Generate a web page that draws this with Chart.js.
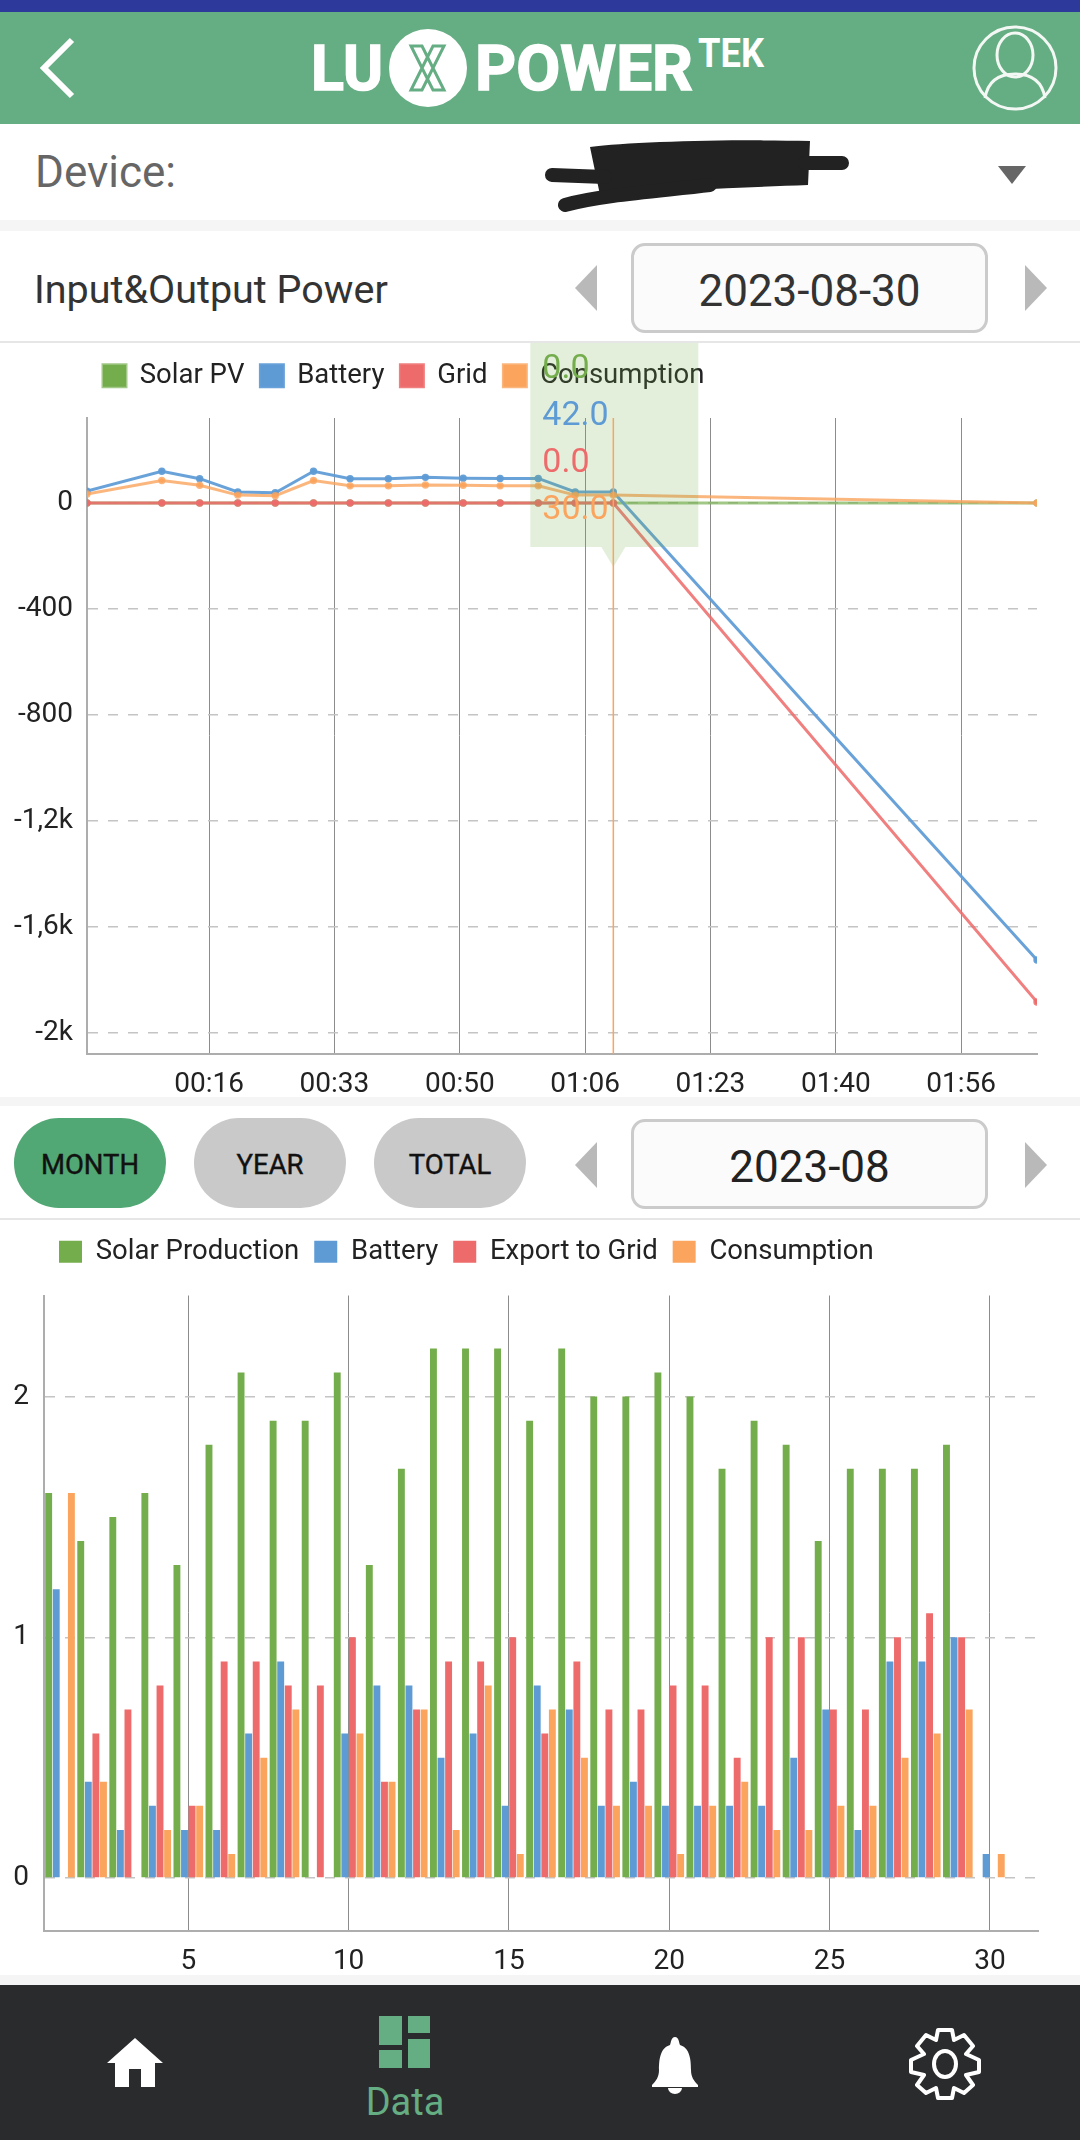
<!DOCTYPE html>
<html>
<head>
<meta charset="utf-8">
<title>Input&amp;Output Power</title>
<script src="https://cdn.jsdelivr.net/npm/chart.js@4/dist/chart.umd.min.js"></script>
<style>
  html, body { margin: 0; padding: 0; background: #fff; }
  body { width: 1080px; height: 2140px; position: relative; overflow: hidden; font-family: Roboto, sans-serif; color: #333; }
  .abs { position: absolute; }
  .status { left: 0; top: 0; width: 1080px; height: 12px; background: #2e3a9b; }
  .header { left: 0; top: 12px; width: 1080px; height: 112px; background: #65ad83; }
  .band { left: 0; width: 1080px; background: #f5f5f5; }
  .line { left: 0; width: 1080px; height: 2px; background: #e6e6e6; }
  .label { white-space: nowrap; line-height: 1; }
  .date { left: 631px; width: 351px; border: 3px solid #cbcbcb; border-radius: 14px; background: #fbfbfb; text-align: center; font-size: 44px; }
  .pill { width: 152px; height: 90px; border-radius: 45px; background: #c9c9c9; text-align: center; line-height: 93px; font-size: 27.5px; color: #111; -webkit-text-stroke: 0.4px #111; }
  .nav { left: 0; top: 1985px; width: 1080px; height: 155px; background: #2a2b2d; }
  canvas { position: absolute; left: 0; }
</style>
</head>
<body>
<div class="abs status"></div>
<div class="abs header"></div>
<svg class="abs" style="left:0;top:0" width="1080" height="124">
  <path d="M72 40 L44 68 L72 96" fill="none" stroke="#fff" stroke-width="6"/>
  <text x="311" y="90" font-family="Roboto" font-weight="700" font-size="63" fill="#fff" stroke="#fff" stroke-width="1.5" textLength="72" lengthAdjust="spacingAndGlyphs">LU</text>
  <circle cx="428" cy="68" r="39" fill="#fff"/>
  <path d="M411 46 h11 l22 44 h-11 z M444 46 h-11 l-22 44 h11 z" fill="#fff" stroke="#65ad83" stroke-width="3"/>
  <text x="475" y="90" font-family="Roboto" font-weight="700" font-size="63" fill="#fff" stroke="#fff" stroke-width="1.5" textLength="218" lengthAdjust="spacingAndGlyphs">POWER</text>
  <text x="698" y="67" font-family="Roboto" font-weight="700" font-size="40" fill="#fff" textLength="66" lengthAdjust="spacingAndGlyphs">TEK</text>
  <ellipse cx="1015" cy="68" rx="41" ry="41" fill="none" stroke="#f3f8f4" stroke-width="3"/>
  <ellipse cx="1015" cy="55" rx="18" ry="22" fill="none" stroke="#f3f8f4" stroke-width="3"/>
  <path d="M985 98 C988 80 1000 74 1015 74 C1030 74 1042 80 1045 98" fill="none" stroke="#f3f8f4" stroke-width="3"/>
</svg>

<div class="abs label" style="left:35px;top:150px;font-size:44px;color:#666">Device:</div>
<svg class="abs" style="left:530px;top:135px" width="330" height="85">
  <path d="M60 12 C100 7 200 4 280 6 L278 50 C220 52 150 55 70 60 Z" fill="#222"/>
  <path d="M22 40 L75 42 M275 28 L312 28 M35 70 C70 60 130 56 180 50" fill="none" stroke="#222" stroke-width="14" stroke-linecap="round"/>
</svg>
<svg class="abs" style="left:998px;top:166px" width="30" height="20"><path d="M0 0 H28 L14 18 Z" fill="#666"/></svg>
<div class="abs band" style="top:220px;height:11px"></div>

<div class="abs label" style="left:34px;top:270px;font-size:39.5px">Input&amp;Output Power</div>
<svg class="abs" style="left:575px;top:265px" width="22" height="46"><path d="M22 0 V46 L0 23 Z" fill="#b9b9b9"/></svg>
<div class="abs date" style="top:243px;height:84px;line-height:90px">2023-08-30</div>
<svg class="abs" style="left:1025px;top:265px" width="22" height="46"><path d="M0 0 V46 L22 23 Z" fill="#b9b9b9"/></svg>
<div class="abs line" style="top:341px"></div>

<div class="abs band" style="top:1097px;height:9px"></div>
<div class="abs pill" style="left:14px;top:1118px;background:#51a874">MONTH</div>
<div class="abs pill" style="left:194px;top:1118px">YEAR</div>
<div class="abs pill" style="left:374px;top:1118px">TOTAL</div>
<svg class="abs" style="left:575px;top:1142px" width="22" height="46"><path d="M22 0 V46 L0 23 Z" fill="#b9b9b9"/></svg>
<div class="abs date" style="top:1119px;height:84px;line-height:90px;color:#222">2023-08</div>
<svg class="abs" style="left:1025px;top:1142px" width="22" height="46"><path d="M0 0 V46 L22 23 Z" fill="#b9b9b9"/></svg>
<div class="abs line" style="top:1218px"></div>

<canvas id="powerChart" width="1080" height="770" style="top:331px"></canvas>
<canvas id="energyChart" width="1080" height="770" style="top:1205px"></canvas>

<div class="abs band" style="top:1975px;height:10px"></div>
<div class="abs nav"></div>
<svg class="abs" style="left:0;top:1985px" width="1080" height="155">
  <path d="M135 53 L107 78 H115 V102 H129 V84 H141 V102 H155 V78 H163 Z" fill="#fff"/>
  <g fill="#65ad83">
    <rect x="379" y="31" width="23" height="29"/><rect x="408" y="31" width="22" height="17"/>
    <rect x="379" y="65" width="23" height="18"/><rect x="408" y="54" width="22" height="29"/>
  </g>
  <text x="405" y="130" font-family="Roboto" font-size="38" fill="#65ad83" text-anchor="middle">Data</text>
  <path d="M675 52 C671 52 671 58 670 60 C660 63 659 75 659 85 C659 92 656 96 652 100 V102 H698 V100 C694 96 691 92 691 85 C691 75 690 63 680 60 C679 58 679 52 675 52 Z" fill="#fff"/>
  <path d="M668 103 H682 A7 6 0 0 1 668 103 Z" fill="#fff"/>
  <path d="M938 45 L952 45 L954 55 L964 50 L973 61 L966 69 L979 75 L979 87 L966 90 L973 100 L964 108 L954 103 L952 113 L938 113 L936 103 L926 108 L917 100 L924 90 L911 87 L911 75 L924 69 L917 61 L926 50 L936 55 Z" fill="none" stroke="#fff" stroke-width="4" stroke-linejoin="round"/>
  <ellipse cx="945" cy="79" rx="11" ry="13" fill="none" stroke="#fff" stroke-width="4"/>
</svg>

<script>
// top chart: time in seconds since midnight, power in W
const powerTimes = [26, 623, 925, 1229, 1528, 1833, 2125, 2430, 2726, 3027, 3322, 3626, 3921, 4225, 7605]
const solarPv = [0, 0, 0, 0, 0, 0, 0, 0, 0, 0, 0, 0, 0, 0, 0]
const battery = [45, 120, 92, 42, 39, 120, 92, 92, 97, 94, 93, 93, 42, 42, -1724]
const grid = [0, 0, 0, 0, 0, 0, 0, 0, 0, 0, 0, 0, 0, 0, -1883]
const consumption = [34, 85, 67, 30, 28, 85, 65, 65, 68, 67, 65, 65, 30, 30, 0]
const powerXTicks = [1000, 2000, 3000, 4000, 5000, 6000, 7000]
const powerYTicks = [-2000, -1600, -1200, -800, -400, 0]
const powerYLabels = ['-2k', '-1,6k', '-1,2k', '-800', '-400', '0']
const highlightIndex = 13

// bottom chart: energy per day of the month
const days = ['1', '2', '3', '4', '5', '6', '7', '8', '9', '10', '11', '12', '13', '14', '15', '16', '17', '18', '19', '20', '21', '22', '23', '24', '25', '26', '27', '28', '29', '30', '31']
const solarProduction = [1.6, 1.4, 1.5, 1.6, 1.3, 1.8, 2.1, 1.9, 1.9, 2.1, 1.3, 1.7, 2.2, 2.2, 2.2, 1.9, 2.2, 2.0, 2.0, 2.1, 2.0, 1.7, 1.9, 1.8, 1.4, 1.7, 1.7, 1.7, 1.8, 0, 0]
const batteryEnergy = [1.2, 0.4, 0.2, 0.3, 0.2, 0.2, 0.6, 0.9, 0, 0.6, 0.8, 0.8, 0.5, 0.6, 0.3, 0.8, 0.7, 0.3, 0.4, 0.3, 0.3, 0.3, 0.3, 0.5, 0.7, 0.2, 0.9, 0.9, 1.0, 0.1, 0]
const exportToGrid = [0, 0.6, 0.7, 0.8, 0.3, 0.9, 0.9, 0.8, 0.8, 1.0, 0.4, 0.7, 0.9, 0.9, 1.0, 0.6, 0.9, 0.7, 0.7, 0.8, 0.8, 0.5, 1.0, 1.0, 0.7, 0.7, 1.0, 1.1, 1.0, 0, 0]
const consumptionEnergy = [1.6, 0.4, 0, 0.2, 0.3, 0.1, 0.5, 0.7, 0, 0.6, 0.4, 0.7, 0.2, 0.8, 0.1, 0.7, 0.5, 0.3, 0.3, 0.1, 0.3, 0.4, 0.2, 0.2, 0.3, 0.3, 0.5, 0.6, 0.7, 0.1, 0]
const energyYTicks = [0, 1, 2]

const GREEN = '#74ad4c'
const BLUE = '#5e9bd5'
const RED = '#ee6b6b'
const ORANGE = '#faa45e'
const GRID_GRAY = '#8c8c8c'
const AXIS_GRAY = '#adadad'
const DASH_GRAY = '#c4c4c4'

Chart.defaults.font.family = 'Roboto, sans-serif'
Chart.defaults.color = '#222'
Chart.defaults.animation = false
Chart.defaults.responsive = false
Chart.defaults.devicePixelRatio = 1

function lineSet(label, data, color, alpha) {
  return {
    label,
    data: data.map((y, i) => ({ x: powerTimes[i], y })),
    borderColor: color + alpha,
    backgroundColor: color,
    borderWidth: 3,
    pointRadius: 2.2,
    pointHoverRadius: 2.2,
    tension: 0
  }
}

function formatClock(seconds) {
  const minutes = Math.floor(seconds / 60)
  const pad = (n) => String(n).padStart(2, '0')
  return pad(Math.floor(minutes / 60)) + ':' + pad(minutes % 60)
}

// legend has no gap option, so stretch its box to push the plot down
function legendGap(gap) {
  return {
    id: 'legendGap',
    beforeInit(chart) {
      const fit = chart.legend.fit
      chart.legend.fit = function () {
        fit.call(this)
        this.height += gap
      }
    }
  }
}

// marker box shown over the selected time, like the app's tapped state
const markerPlugin = {
  id: 'marker',
  afterDatasetsDraw(chart) {
    const { ctx, scales, chartArea } = chart
    const x = scales.x.getPixelForValue(powerTimes[highlightIndex])
    const boxTop = 12
    const boxBottom = 216
    ctx.save()
    ctx.fillStyle = 'rgba(116,173,76,0.2)'
    ctx.fillRect(x - 83, boxTop, 168, boxBottom - boxTop)
    ctx.beginPath()
    ctx.moveTo(x - 12, boxBottom)
    ctx.lineTo(x + 12, boxBottom)
    ctx.lineTo(x, boxBottom + 20)
    ctx.closePath()
    ctx.fill()
    ctx.strokeStyle = ORANGE
    ctx.lineWidth = 1.5
    ctx.beginPath()
    ctx.moveTo(x, chartArea.top)
    ctx.lineTo(x, chartArea.bottom)
    ctx.stroke()
    ctx.font = '34px Roboto, sans-serif'
    ctx.textBaseline = 'middle'
    chart.data.datasets.forEach((set, i) => {
      ctx.fillStyle = set.backgroundColor
      ctx.fillText(set.data[highlightIndex].y.toFixed(1), x - 71, 38 + i * 47)
    })
    ctx.restore()
  }
}

new Chart(document.getElementById('powerChart'), {
  type: 'line',
  data: {
    datasets: [
      { ...lineSet('Solar PV', solarPv, GREEN, 'aa'), order: 4 },
      { ...lineSet('Battery', battery, BLUE, 'ee'), order: 3 },
      { ...lineSet('Grid', grid, RED, 'dd'), order: 2 },
      { ...lineSet('Consumption', consumption, ORANGE, 'cc'), order: 1 }
    ]
  },
  plugins: [legendGap(18.5), markerPlugin],
  options: {
    layout: { padding: { top: 15, right: 43 } },
    plugins: {
      tooltip: { enabled: false },
      legend: {
        align: 'start',
        fullSize: false,
        labels: {
          boxWidth: 23,
          boxHeight: 22,
          padding: 16,
          font: { size: 27.5 },
          sort: (a, b) => a.datasetIndex - b.datasetIndex
        }
      }
    },
    scales: {
      x: {
        type: 'linear',
        min: powerTimes[0],
        max: powerTimes[powerTimes.length - 1],
        afterBuildTicks: (scale) => { scale.ticks = powerXTicks.map((value) => ({ value })) },
        afterFit: (scale) => { scale.height = 47 },
        grid: { color: GRID_GRAY, lineWidth: 1, drawTicks: false },
        border: { color: AXIS_GRAY, width: 2 },
        ticks: { padding: 14, maxRotation: 0, font: { size: 28 }, callback: (v) => formatClock(v) }
      },
      y: {
        min: -2079,
        max: 321,
        afterBuildTicks: (scale) => { scale.ticks = powerYTicks.map((value) => ({ value })) },
        afterFit: (scale) => { scale.width = 87 },
        grid: { color: DASH_GRAY, lineWidth: 1.5, drawTicks: false },
        border: { color: AXIS_GRAY, width: 2, dash: [10, 10] },
        ticks: { padding: 14, font: { size: 28 }, callback: (v) => powerYLabels[powerYTicks.indexOf(v)] }
      }
    }
  }
})

function barSet(label, data, color) {
  return { label, data, backgroundColor: color, categoryPercentage: 0.945, barPercentage: 0.91 }
}

new Chart(document.getElementById('energyChart'), {
  type: 'bar',
  data: {
    labels: days,
    datasets: [
      barSet('Solar Production', solarProduction, GREEN),
      barSet('Battery', batteryEnergy, BLUE),
      barSet('Export to Grid', exportToGrid, RED),
      barSet('Consumption', consumptionEnergy, ORANGE)
    ]
  },
  plugins: [legendGap(20)],
  options: {
    layout: { padding: { top: 18, right: 42 } },
    plugins: {
      tooltip: { enabled: false },
      legend: {
        align: 'start',
        fullSize: false,
        labels: { boxWidth: 23, boxHeight: 22, padding: 15, font: { size: 27.5 } }
      }
    },
    scales: {
      x: {
        afterFit: (scale) => { scale.height = 44 },
        grid: {
          offset: false,
          drawTicks: false,
          lineWidth: 1,
          color: (ctx) => ((ctx.index + 1) % 5 === 0 && ctx.index < 30 ? GRID_GRAY : 'rgba(0,0,0,0)')
        },
        border: { color: AXIS_GRAY, width: 2 },
        ticks: {
          autoSkip: false,
          maxRotation: 0,
          padding: 14,
          font: { size: 28 },
          callback: (v, i) => ((i + 1) % 5 === 0 && i < 30 ? days[i] : '')
        }
      },
      y: {
        min: -0.22,
        max: 2.42,
        afterBuildTicks: (scale) => { scale.ticks = energyYTicks.map((value) => ({ value })) },
        afterFit: (scale) => { scale.width = 44 },
        grid: { color: DASH_GRAY, lineWidth: 1.5, drawTicks: false },
        border: { color: AXIS_GRAY, width: 2, dash: [10, 10] },
        ticks: { padding: 15, font: { size: 28 } }
      }
    }
  }
})
</script>
</body>
</html>
